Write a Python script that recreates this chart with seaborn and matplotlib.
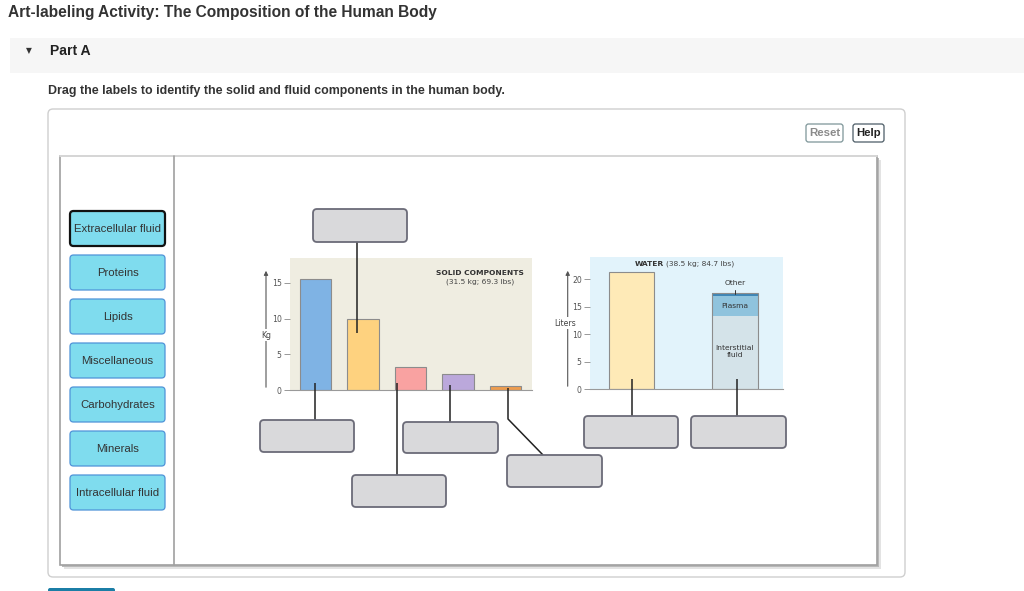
import numpy as np
import pandas as pd
import seaborn as sns
import matplotlib.pyplot as plt
from matplotlib.patches import FancyBboxPatch, Rectangle

sns.set_style("white")
plt.rcParams["font.family"] = ["Liberation Sans", "DejaVu Sans"]

W, H = 1024, 591

# solid components, kg
solid_cats = ["Proteins", "Lipids", "Minerals", "Carbohydrates", "Miscellaneous"]
solid_kg = [15.6, 9.9, 3.2, 2.3, 0.55]
solid_colors = ["#7fb3e4", "#fed27f", "#f9a2a1", "#bba8db", "#ee9d4f"]
solid_ticks = [0, 5, 10, 15]

# water, liters
water_cats = ["Intracellular fluid", "Extracellular fluid"]
icf_liters = [21.4]
ecf_parts = ["Interstitial fluid", "Plasma", "Other"]
ecf_liters = [13.4, 3.6, 0.45]
ecf_colors = ["#d4e3e9", "#8fc3dd", "#3f86b6"]
water_ticks = [0, 5, 10, 15, 20]

label_buttons = ["Extracellular fluid", "Proteins", "Lipids", "Miscellaneous",
                 "Carbohydrates", "Minerals", "Intracellular fluid"]

# empty drop targets (x0, y0, x1, y1) and their leader lines
drop_boxes = [(313, 209, 407, 242), (260, 420, 354, 452), (403, 422, 498, 453),
              (352, 475, 446, 507), (507, 455, 602, 487), (584, 416, 678, 448),
              (691, 416, 786, 448)]
leaders = [[(357, 242), (357, 333)], [(315, 383), (315, 420)], [(397, 383), (397, 475)],
           [(450, 385), (450, 422)], [(508, 388), (508, 419), (543, 455)],
           [(632, 379), (632, 416)], [(737, 379), (737, 416)]]


def px_axes(fig, x0, y0, x1, y1):
  return fig.add_axes([x0 / W, 1 - y1 / H, (x1 - x0) / W, (y1 - y0) / H])


def overlay(fig, z):
  ax = fig.add_axes([0, 0, 1, 1])
  ax.set_xlim(0, W)
  ax.set_ylim(H, 0)
  ax.axis("off")
  ax.set_zorder(z)
  return ax


def rbox(ax, x0, y0, x1, y1, fc, ec, lw=1.0, r=4, z=1):
  ax.add_patch(FancyBboxPatch((x0, y0), x1 - x0, y1 - y0,
                              boxstyle="round,pad=0,rounding_size=%s" % r,
                              fc=fc, ec=ec, lw=lw, zorder=z))


def style_chart(ax, bg, xlim, ylim, ticks):
  ax.set_facecolor(bg)
  ax.set_xlim(*xlim)
  ax.set_ylim(*ylim)
  ax.set_xticks([])
  ax.set_yticks(ticks)
  ax.set_xlabel("")
  ax.set_ylabel("")
  for s in ["top", "right", "left"]:
    ax.spines[s].set_visible(False)
  ax.spines["bottom"].set_color("#9a9a9a")
  ax.spines["bottom"].set_linewidth(0.8)
  ax.tick_params(axis="y", length=4.5, width=0.6, color="#888888",
                 labelsize=5.6, labelcolor="#555555", pad=1.5, left=True)
  for t in ax.get_yticklabels():
    t.set_family("DejaVu Sans")


fig = plt.figure(figsize=(W / 100, H / 100), dpi=100)
bg = overlay(fig, 0)

# page header
bg.text(8, 13, "Art-labeling Activity: The Composition of the Human Body",
        fontsize=11.2, weight="bold", color="#333333", va="center")
bg.add_patch(Rectangle((10, 38), W - 10, 35, fc="#f6f6f6", ec="none"))
bg.text(29, 51, "\u25bc", fontsize=5.5, family="DejaVu Sans", color="#333333", ha="center", va="center")
bg.text(50, 51, "Part A", fontsize=10.1, weight="bold", color="#222222", va="center")
bg.text(48, 91, "Drag the labels to identify the solid and fluid components in the human body.",
        fontsize=8.9, weight="bold", color="#333333", va="center")

# activity frame
rbox(bg, 48, 109, 905, 577, "white", "#cfcfcf", lw=1.0, r=5)
rbox(bg, 806, 124, 843, 142, "white", "#7d9598", lw=0.9, r=2.5)
bg.text(824.5, 133, "Reset", fontsize=8.2, weight="bold", color="#8a8a8a", ha="center", va="center")
rbox(bg, 853, 124, 884, 142, "white", "#4c5c66", lw=0.9, r=2.5)
bg.text(868.5, 133, "Help", fontsize=8.2, weight="bold", color="#222222", ha="center", va="center")
bg.add_patch(Rectangle((64, 160), 817, 409, fc="#e3e3e3", ec="none", zorder=1))
bg.add_patch(Rectangle((62, 158), 817, 409, fc="#b8b8b8", ec="none", zorder=1))
bg.add_patch(Rectangle((60, 156), 817, 409, fc="white", ec="#a0a0a0", lw=1.2, zorder=2))
bg.plot([60, 877], [156, 156], color="#d8d8d8", lw=1.4, zorder=3)
bg.plot([174, 174], [156, 565], color="#a0a0a0", lw=1.2, zorder=3)
rbox(bg, 48, 588, 115, 596, "#1b7ea6", "none", r=2)

# label buttons
for i, name in enumerate(label_buttons):
  y0 = 211 + 44 * i
  first = i == 0
  rbox(bg, 70, y0, 165, y0 + 35, "#7fdcee", "#111111" if first else "#4f93d8",
       lw=1.6 if first else 0.9, r=3.5, z=3)
  bg.text(117.5, y0 + 17.5, name, fontsize=8.2, color="#333333", ha="center", va="center", zorder=4)

# solid components chart
ax_s = px_axes(fig, 290, 258, 532, 390)
ax_s.set_zorder(1)
sdf = pd.DataFrame({"component": solid_cats, "kg": solid_kg})
sns.barplot(data=sdf, x="component", y="kg", hue="component", order=solid_cats,
            hue_order=solid_cats, palette=solid_colors, saturation=1, width=0.67,
            edgecolor="#8c8c8c", linewidth=0.8, errorbar=None, legend=False, ax=ax_s)
style_chart(ax_s, "#efede1", (-0.537, 4.56), (0, 18.5), solid_ticks)

# water chart
ax_w = px_axes(fig, 590, 257, 783, 389.3)
ax_w.set_zorder(1)
sns.barplot(x=water_cats[:1], y=icf_liters, order=water_cats, color="#feeab7", saturation=1,
            width=0.44, edgecolor="#8c8c8c", linewidth=0.8, errorbar=None, ax=ax_w)
tops = np.cumsum(ecf_liters)
for top, col in reversed(list(zip(tops, ecf_colors))):
  sns.barplot(x=water_cats[1:], y=[top], order=water_cats, color=col, saturation=1,
              width=0.44, linewidth=0, errorbar=None, ax=ax_w)
sns.barplot(x=water_cats[1:], y=[tops[-1]], order=water_cats, fill=False, color="#8c8c8c",
            width=0.44, linewidth=0.8, errorbar=None, ax=ax_w)
style_chart(ax_w, "#e2f3fb", (-0.40, 1.46), (0, 24.05), water_ticks)

# foreground: chart annotations, drop targets and leader lines
fg = overlay(fig, 2)
vf = "DejaVu Sans"
fg.text(480, 273, "SOLID COMPONENTS", family=vf, fontsize=5.4, weight="bold", color="#333333", ha="center", va="center")
fg.text(480, 282, "(31.5 kg; 69.3 lbs)", family=vf, fontsize=5.4, color="#444444", ha="center", va="center")
fg.text(664.5, 264, "WATER", family=vf, fontsize=5.4, weight="bold", color="#333333", ha="right", va="center")
fg.text(666.5, 264, "(38.5 kg; 84.7 lbs)", family=vf, fontsize=5.4, color="#444444", ha="left", va="center")
fg.text(735, 283, "Other", family=vf, fontsize=5.4, color="#333333", ha="center", va="center")
fg.plot([735, 735], [289.5, 293.5], color="#333333", lw=0.7)
fg.text(735, 306, "Plasma", family=vf, fontsize=5.4, color="#333333", ha="center", va="center")
fg.text(735, 351.5, "Interstitial\nfluid", family=vf, fontsize=5.4, color="#333333", ha="center",
        va="center", linespacing=1.05)

for x, y0, y1, lab, ly in [(266, 390, 268, "Kg", 335), (567.7, 389, 268, "Liters", 323)]:
  fg.annotate("", xy=(x, y1), xytext=(x, y0),
              arrowprops=dict(arrowstyle="-|>", color="#555555", lw=0.8, mutation_scale=6))
  fg.text(x - 3 if lab == "Liters" else x, ly, lab, family=vf, fontsize=5.6, color="#444444",
          ha="center", va="center",
          bbox=dict(fc="white", ec="none", pad=0.8))

for pts in leaders:
  xs, ys = zip(*pts)
  fg.plot(xs, ys, color="#222222", lw=1.1, solid_capstyle="butt")
for x0, y0, x1, y1 in drop_boxes:
  rbox(fg, x0, y0, x1, y1, "#d9d9db", "#6b6b78", lw=1.3, r=4, z=3)

fig.savefig("out.png", dpi=100)
